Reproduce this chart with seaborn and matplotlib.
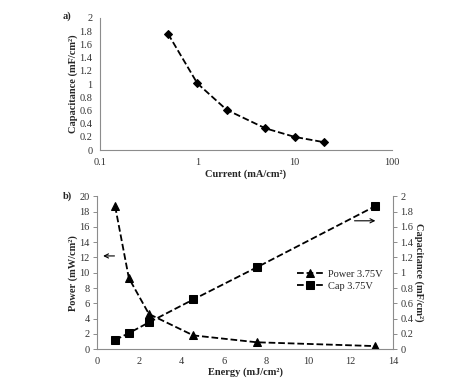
# 電流-容量 / エネルギー-出力 の2段グラフ

import matplotlib.pyplot as plt
from matplotlib.ticker import FixedLocator, LogLocator, NullFormatter
import pandas as pd
import seaborn as sns


CURRENT = [0.5, 1, 2, 5, 10, 20]
CAPACITANCE_A = [1.76, 1.01, 0.61, 0.33, 0.20, 0.12]

ENERGY = [0.85, 1.5, 2.45, 4.55, 7.55, 13.15]
POWER = [18.7, 9.3, 4.6, 1.8, 0.9, 0.4]
CAPACITANCE_B = [0.12, 0.21, 0.35, 0.65, 1.07, 1.87]

GREY = "#8C8C8C"
TEXT = "#333333"
CAP_TICKS = ["0", "0.2", "0.4", "0.6", "0.8", "1", "1.2", "1.4", "1.6", "1.8", "2"]


def setup_plot_style() -> None:
    sns.set_theme(style="white")
    plt.rcParams["font.family"] = ["Liberation Serif", "DejaVu Serif"]
    plt.rcParams["font.size"] = 7.5
    plt.rcParams["axes.unicode_minus"] = False


def style_axis(ax, sides) -> None:
    for name, spine in ax.spines.items():
        spine.set_visible(name in sides)
        spine.set_color(GREY)
        spine.set_linewidth(0.8)
    ax.tick_params(which="both", direction="out", color=GREY, labelsize=7.5,
                   labelcolor=TEXT, length=3, width=0.7, pad=2.5)
    ax.tick_params(which="minor", length=2)


if __name__ == "__main__":
    setup_plot_style()

    fig = plt.figure(figsize=(4.74, 3.82), dpi=100)

    # a) current vs capacitance
    ax1 = fig.add_axes([0.211, 0.607, 0.616, 0.346])
    df_a = pd.DataFrame({"current": CURRENT, "cap": CAPACITANCE_A})
    sns.lineplot(data=df_a, x="current", y="cap", ax=ax1, color="black",
                 linestyle="--", linewidth=1.3, marker="D", markersize=4.5,
                 markeredgecolor="black")
    ax1.set_xscale("log")
    ax1.set_xlim(0.1, 100)
    ax1.set_ylim(0, 2)
    ax1.set_xticks([0.1, 1, 10, 100])
    ax1.set_xticklabels(["0.1", "1", "10", "100"])
    ax1.xaxis.set_minor_locator(LogLocator(base=10, subs=range(2, 10)))
    ax1.xaxis.set_minor_formatter(NullFormatter())
    ax1.yaxis.set_major_locator(FixedLocator([i * 0.2 for i in range(11)]))
    ax1.set_yticklabels(CAP_TICKS)
    style_axis(ax1, ["left", "bottom"])
    ax1.set_xlabel("Current (mA/cm²)", fontweight="bold", fontsize=7.5, labelpad=2)
    ax1.set_ylabel("Capacitance (mF/cm²)", fontweight="bold", fontsize=7.5, labelpad=1)
    fig.text(0.142, 0.958, "a)", fontweight="bold", fontsize=7.5, ha="center", va="center")

    # b) energy vs power / capacitance
    ax2 = fig.add_axes([0.205, 0.086, 0.624, 0.4])
    ax3 = ax2.twinx()
    df_b = pd.DataFrame({"energy": ENERGY, "power": POWER, "cap": CAPACITANCE_B})
    sns.lineplot(data=df_b, x="energy", y="power", ax=ax2, color="black",
                 linestyle="--", linewidth=1.3, marker="^", markersize=5.5,
                 markeredgecolor="black", label="Power 3.75V", legend=False)
    sns.lineplot(data=df_b, x="energy", y="cap", ax=ax3, color="black",
                 linestyle="--", linewidth=1.3, marker="s", markersize=6,
                 markeredgecolor="black", label="Cap 3.75V", legend=False)
    ax2.set_xlim(0, 14)
    ax2.set_ylim(0, 20)
    ax3.set_ylim(0, 2)
    ax2.set_xticks(range(0, 15, 2))
    ax2.set_yticks(range(0, 21, 2))
    ax3.yaxis.set_major_locator(FixedLocator([i * 0.2 for i in range(11)]))
    ax3.set_yticklabels(CAP_TICKS)
    style_axis(ax2, ["left", "bottom"])
    style_axis(ax3, ["right"])
    ax2.set_xlabel("Energy (mJ/cm²)", fontweight="bold", fontsize=7.5, labelpad=1)
    ax2.set_ylabel("Power (mW/cm²)", fontweight="bold", fontsize=7.5, labelpad=1)
    ax3.set_ylabel("Capacitance (mF/cm²)", fontweight="bold", fontsize=7.5,
                   rotation=-90, labelpad=7)

    ax2.annotate("", xy=(0.15, 12.2), xytext=(0.95, 12.2),
                 arrowprops=dict(arrowstyle="->", color="black", lw=0.8))
    ax3.annotate("", xy=(13.3, 1.68), xytext=(12.05, 1.68),
                 arrowprops=dict(arrowstyle="->", color="black", lw=0.8))

    h2, l2 = ax2.get_legend_handles_labels()
    h3, l3 = ax3.get_legend_handles_labels()
    ax3.legend(h2 + h3, l2 + l3, loc="upper left", bbox_to_anchor=(0.66, 0.55),
               frameon=False, fontsize=7.5, handlelength=2.6, labelspacing=0.3,
               borderaxespad=0, handletextpad=0.4)

    fig.text(0.142, 0.487, "b)", fontweight="bold", fontsize=7.5, ha="center", va="center")

    fig.savefig("out.png", dpi=100)
    plt.close(fig)
    print("処理完了")
